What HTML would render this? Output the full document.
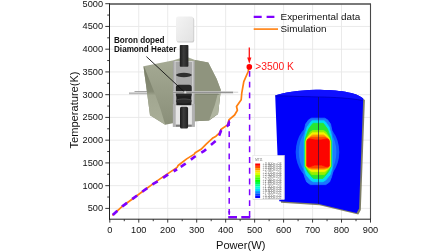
<!DOCTYPE html>
<html lang="en"><head><meta charset="utf-8"><title>Temperature vs Power</title>
<style>html,body{margin:0;padding:0;background:#fff;width:448px;height:252px;overflow:hidden}body{position:relative;font-family:"Liberation Sans",Arial,sans-serif}</style>
</head><body>
<svg width="448" height="252" viewBox="0 0 448 252" style="display:block;position:absolute;left:0;top:0">
<defs>
<linearGradient id="hrod" x1="0" y1="0" x2="0" y2="1"><stop offset="0" stop-color="#d8d8d8"/><stop offset="0.5" stop-color="#8c8c8c"/><stop offset="1" stop-color="#c4c4c4"/></linearGradient>
<linearGradient id="sleeve" x1="0" y1="0" x2="1" y2="0"><stop offset="0" stop-color="#9a9a9a"/><stop offset="0.12" stop-color="#cfcfcf"/><stop offset="0.5" stop-color="#b4b4b4"/><stop offset="0.88" stop-color="#d6d6d6"/><stop offset="1" stop-color="#a0a0a0"/></linearGradient>
<linearGradient id="rod" x1="0" y1="0" x2="1" y2="0"><stop offset="0" stop-color="#1c1c1c"/><stop offset="0.45" stop-color="#3c3c3c"/><stop offset="1" stop-color="#202020"/></linearGradient>
<linearGradient id="cap" x1="0" y1="0" x2="1" y2="1"><stop offset="0" stop-color="#f4f4f4"/><stop offset="1" stop-color="#e2e2e2"/></linearGradient>
<linearGradient id="lfacet" gradientUnits="userSpaceOnUse" x1="0" y1="66" x2="0" y2="125"><stop offset="0" stop-color="#7a7f69"/><stop offset="0.43" stop-color="#868b75"/><stop offset="0.5" stop-color="#a2a791"/><stop offset="1" stop-color="#a9ae98"/></linearGradient>
<linearGradient id="bodyg" gradientUnits="userSpaceOnUse" x1="0" y1="58" x2="0" y2="125"><stop offset="0" stop-color="#a6ab95"/><stop offset="0.45" stop-color="#999e88"/><stop offset="1" stop-color="#8a8f79"/></linearGradient>
<filter id="blur1" x="-20%" y="-20%" width="140%" height="140%"><feGaussianBlur stdDeviation="0.6"/></filter>
<filter id="blur2" x="-20%" y="-20%" width="140%" height="140%"><feGaussianBlur stdDeviation="0.9"/></filter>
<clipPath id="plotclip"><rect x="109.5" y="4.0" width="261.0" height="215.2"/></clipPath>
</defs>
<rect width="448" height="252" fill="#ffffff"/>
<path d="M138.77 4.0V219.2M167.73 4.0V219.2M196.70 4.0V219.2M225.67 4.0V219.2M254.63 4.0V219.2M283.60 4.0V219.2M312.57 4.0V219.2M341.53 4.0V219.2M109.5 208.40H370.5M109.5 185.66H370.5M109.5 162.91H370.5M109.5 140.17H370.5M109.5 117.42H370.5M109.5 94.68H370.5M109.5 71.93H370.5M109.5 49.19H370.5M109.5 26.44H370.5" stroke="#e8e8e8" stroke-width="0.9" fill="none"/>
<g id="device">
<rect x="129" y="92.4" width="20" height="1.9" fill="#b9b9b9"/>
<rect x="134.5" y="91.1" width="14" height="0.9" fill="#9a9a9a"/>
<polygon points="143.5,66.2 172.6,60.6 181,58 188.5,57.5 195,59.9 208.3,62.4 216.7,79 220.8,90 218,114 209,120.4 195,121.2 174,123 165.2,124.8 150,115.2 145.9,84 144.6,75" fill="url(#bodyg)"/>
<polygon points="195,59.9 208.3,62.4 216.7,79 220.8,90 218,114 209,120.4 195,121.2" fill="#8f947e"/>
<polygon points="143.5,66.2 144.4,67.2 154.6,93 160.5,109 165.2,124.8 150,115.2 145.9,84 144.6,75" fill="url(#lfacet)"/>
<polygon points="220.8,90 218,114 209.4,119.8 214.8,105 217.6,94.5" fill="#b0b5a0"/>
<rect x="172.9" y="61" width="21.8" height="65.8" fill="url(#sleeve)"/>
<rect x="175.6" y="62" width="16.4" height="43.5" fill="#a8a8a8"/>
<rect x="172.9" y="104" width="2.9" height="22.8" fill="#b2b2b2"/>
<rect x="191.8" y="104" width="2.9" height="22.8" fill="#b2b2b2"/>
<rect x="175.8" y="105.2" width="16" height="21.6" fill="#e6e6e6"/>
<rect x="175.8" y="124.6" width="16" height="2.2" fill="#7a7a7a"/>
<rect x="179.8" y="45" width="8.6" height="21.8" rx="0.8" fill="url(#rod)"/>
<rect x="176.8" y="17.6" width="17.4" height="25" rx="2.2" fill="#c9c9c9" filter="url(#blur1)"/>
<rect x="176" y="16.6" width="17.4" height="25" rx="2.2" fill="url(#cap)"/>
<ellipse cx="183.9" cy="75" rx="7.9" ry="2.2" fill="#2e2e2e"/>
<rect x="175.9" y="84.8" width="15.8" height="12.2" rx="2.6" fill="#262626"/>
<rect x="176.4" y="96" width="14.8" height="9.2" fill="#1e1e1e"/>
<ellipse cx="183.8" cy="101" rx="7.9" ry="2.4" fill="#2c2c2c"/>
<path d="M176.2 100.2 C179 98.6 188.6 98.6 191.4 100.2" fill="none" stroke="#5c5c5c" stroke-width="0.6"/>
<rect x="195.4" y="94" width="24" height="0.9" fill="#7c816c" opacity="0.8"/>
<rect x="173.2" y="91.2" width="60" height="2.3" fill="url(#hrod)"/>
<rect x="233.2" y="91.6" width="5" height="1.4" fill="#dedede"/>
<circle cx="185.2" cy="92.2" r="1.3" fill="#e8e8e8" stroke="#777" stroke-width="0.4"/>
<rect x="180" y="106.8" width="8.1" height="21.8" rx="1.6" fill="url(#rod)"/>
</g>
<text x="114" y="42.7" font-family="'Liberation Sans',Arial,sans-serif" font-weight="bold" font-size="8.15px" fill="#111">Boron doped</text>
<text x="114" y="52.3" font-family="'Liberation Sans',Arial,sans-serif" font-weight="bold" font-size="8.15px" fill="#111">Diamond Heater</text>
<line x1="146.4" y1="56.6" x2="183.6" y2="91.2" stroke="#111" stroke-width="0.9"/>
<g id="contour">
<path d="M275.2 95.6 C283 92.6 298 90.2 316 89.8 C338 89.8 357 92.5 363.2 98.6 L359.1 208.5 L356.6 212.9 L318 203.8 L279.3 201.3 Z" fill="#5e5e40" opacity="0.8" transform="translate(1.7 1.5)" filter="url(#blur1)"/>
<path d="M275.2 95.6 C283 92.6 298 90.2 316 89.8 C338 89.8 357 92.5 363.2 98.6 L359.1 208.5 L356.6 212.9 L318 203.8 L279.3 201.3 Z" fill="#0000fa"/>
<path d="M275.2 95.6 C283 92.6 298 90.2 316 89.8 C338 89.8 357 92.5 363.2 98.6 L362.4 100.2 C350 98 335 97 318.3 96.8 C300 96.4 285 95.8 275.2 95.6 Z" fill="#1010ff"/>
<path d="M275.2 95.8 C285 96 300 96.6 318.3 97 C335 97.2 350 98.2 362.4 100.4" fill="none" stroke="#0000b4" stroke-width="0.7"/>
<ellipse cx="317.5" cy="152" rx="21.8" ry="29" fill="#0c58ff"/>
<ellipse cx="317.6" cy="152" rx="18.8" ry="27" fill="#1e7cff"/>
<path d="M324.6 118.2 L327.5 119.8 L330.5 124.0 L332.0 131.0 L332.5 140.0 L332.8 171.9 L331.5 176.9 L329.5 182.0 L325.8 184.6 L310.4 184.6 L306.7 182.0 L304.7 176.9 L303.4 171.9 L303.7 140.0 L304.2 131.0 L305.7 124.0 L308.7 119.8 L311.6 118.2Z" fill="#1a76ff" stroke="#1a76ff" stroke-width="0.8" stroke-linejoin="round"/>
<path d="M324.1 120.8 L325.5 122.0 L329.0 127.0 L331.0 133.8 L332.1 140.0 L332.1 168.0 L330.0 174.9 L325.5 180.2 L322.9 181.7 L313.3 181.7 L310.7 180.2 L306.2 174.9 L304.1 168.0 L304.1 140.0 L305.2 133.8 L307.2 127.0 L310.7 122.0 L312.1 120.8Z" fill="#00dcf4" stroke="#00dcf4" stroke-width="0.8" stroke-linejoin="round"/>
<path d="M323.1 123.3 L324.0 124.2 L327.5 129.0 L330.3 136.8 L331.3 141.0 L331.3 166.5 L328.5 171.9 L324.0 177.3 L322.9 178.5 L313.3 178.5 L312.2 177.3 L307.7 171.9 L304.9 166.5 L304.9 141.0 L305.9 136.8 L308.7 129.0 L312.2 124.2 L313.1 123.3Z" fill="#28e632" stroke="#28e632" stroke-width="0.8" stroke-linejoin="round"/>
<path d="M323.7 130.6 L326.1 132.2 L329.5 138.0 L330.6 141.5 L330.6 166.4 L327.1 171.4 L324.5 174.6 L311.7 174.6 L309.1 171.4 L305.6 166.4 L305.6 141.5 L306.7 138.0 L310.1 132.2 L312.5 130.6Z" fill="#96f000" stroke="#96f000" stroke-width="0.8" stroke-linejoin="round"/>
<path d="M323.9 132.8 L327.1 135.6 L329.5 139.0 L330.2 142.0 L330.2 166.2 L326.5 170.2 L324.7 171.6 L311.5 171.6 L309.7 170.2 L306.0 166.2 L306.0 142.0 L306.7 139.0 L309.1 135.6 L312.3 132.8Z" fill="#f8f000" stroke="#f8f000" stroke-width="0.8" stroke-linejoin="round"/>
<path d="M323.5 135.0 L326.7 137.2 L329.3 140.0 L329.8 142.2 L329.8 166.2 L327.5 168.4 L324.5 169.2 L311.7 169.2 L308.7 168.4 L306.4 166.2 L306.4 142.2 L306.9 140.0 L309.5 137.2 L312.7 135.0Z" fill="#ff9800" stroke="#ff9800" stroke-width="0.8" stroke-linejoin="round"/>
<path d="M325.1 137.2 L328.1 139.2 L329.5 141.6 L329.5 166.0 L327.7 167.4 L324.5 168.0 L311.7 168.0 L308.5 167.4 L306.7 166.0 L306.7 141.6 L308.1 139.2 L311.1 137.2Z" fill="#ff4800" stroke="#ff4800" stroke-width="0.8" stroke-linejoin="round"/>
<path d="M321.1 140.0 L326.7 138.9 L328.5 139.4 L329.1 141.0 L329.1 165.6 L328.3 166.6 L326.1 166.6 L321.5 165.0 L314.7 165.0 L310.1 166.6 L307.9 166.6 L307.1 165.6 L307.1 141.0 L307.7 139.4 L309.5 138.9 L315.1 140.0Z" fill="#fc0400" stroke="#fc0400" stroke-width="0.8" stroke-linejoin="round"/>
<line x1="318.5" y1="97" x2="318.5" y2="203.8" stroke="#12124a" stroke-width="0.6"/>
<rect x="252.9" y="155.4" width="31.4" height="44" fill="#ffffff" stroke="#dedede" stroke-width="0.5"/>
<path d="M284.1 155.4V199.3H252.9" fill="none" stroke="#cfcfcf" stroke-width="0.5"/>
<rect x="255.2" y="163.50" width="4.9" height="2.35" fill="#ff0000"/>
<rect x="255.2" y="165.80" width="4.9" height="2.35" fill="#ff4800"/>
<rect x="255.2" y="168.10" width="4.9" height="2.35" fill="#ff9100"/>
<rect x="255.2" y="170.40" width="4.9" height="2.35" fill="#ffda00"/>
<rect x="255.2" y="172.70" width="4.9" height="2.35" fill="#daff00"/>
<rect x="255.2" y="175.00" width="4.9" height="2.35" fill="#91ff00"/>
<rect x="255.2" y="177.30" width="4.9" height="2.35" fill="#48ff00"/>
<rect x="255.2" y="179.60" width="4.9" height="2.35" fill="#00ff00"/>
<rect x="255.2" y="181.90" width="4.9" height="2.35" fill="#00ff48"/>
<rect x="255.2" y="184.20" width="4.9" height="2.35" fill="#00ff91"/>
<rect x="255.2" y="186.50" width="4.9" height="2.35" fill="#00ffda"/>
<rect x="255.2" y="188.80" width="4.9" height="2.35" fill="#00daff"/>
<rect x="255.2" y="191.10" width="4.9" height="2.35" fill="#0091ff"/>
<rect x="255.2" y="193.40" width="4.9" height="2.35" fill="#0048ff"/>
<rect x="255.2" y="195.70" width="4.9" height="2.35" fill="#0000ff"/>
<g font-family="'Liberation Sans',Arial,sans-serif" fill="#6e6e6e">
<text x="255.2" y="160.6" font-size="3px">MT11</text>
<text x="262.6" y="164.50" font-size="3.1px" textLength="19" lengthAdjust="spacingAndGlyphs">+3.600e+03</text>
<text x="262.6" y="166.80" font-size="3.1px" textLength="19" lengthAdjust="spacingAndGlyphs">+3.380e+03</text>
<text x="262.6" y="169.10" font-size="3.1px" textLength="19" lengthAdjust="spacingAndGlyphs">+3.160e+03</text>
<text x="262.6" y="171.40" font-size="3.1px" textLength="19" lengthAdjust="spacingAndGlyphs">+2.940e+03</text>
<text x="262.6" y="173.70" font-size="3.1px" textLength="19" lengthAdjust="spacingAndGlyphs">+2.720e+03</text>
<text x="262.6" y="176.00" font-size="3.1px" textLength="19" lengthAdjust="spacingAndGlyphs">+2.500e+03</text>
<text x="262.6" y="178.30" font-size="3.1px" textLength="19" lengthAdjust="spacingAndGlyphs">+2.280e+03</text>
<text x="262.6" y="180.60" font-size="3.1px" textLength="19" lengthAdjust="spacingAndGlyphs">+2.060e+03</text>
<text x="262.6" y="182.90" font-size="3.1px" textLength="19" lengthAdjust="spacingAndGlyphs">+1.840e+03</text>
<text x="262.6" y="185.20" font-size="3.1px" textLength="19" lengthAdjust="spacingAndGlyphs">+1.620e+03</text>
<text x="262.6" y="187.50" font-size="3.1px" textLength="19" lengthAdjust="spacingAndGlyphs">+1.400e+03</text>
<text x="262.6" y="189.80" font-size="3.1px" textLength="19" lengthAdjust="spacingAndGlyphs">+1.180e+03</text>
<text x="262.6" y="192.10" font-size="3.1px" textLength="19" lengthAdjust="spacingAndGlyphs">+9.600e+02</text>
<text x="262.6" y="194.40" font-size="3.1px" textLength="19" lengthAdjust="spacingAndGlyphs">+7.400e+02</text>
<text x="262.6" y="196.70" font-size="3.1px" textLength="19" lengthAdjust="spacingAndGlyphs">+5.200e+02</text>
<text x="262.6" y="199.00" font-size="3.1px" textLength="19" lengthAdjust="spacingAndGlyphs">+3.000e+02</text>
</g>
</g>
<path d="M112.8 214.9 L122.3 206.3 L132.8 198.7 L143.2 191.0 L153.7 183.4 L160.0 178.9 L168.6 173.1 L177.1 167.4 L178.1 165.5 L186.7 158.9 L194.3 154.1 L195.2 152.8 L201.0 149.3 L206.7 143.6 L212.4 138.3 L216.0 136.2 L219.3 133.1 L221.2 129.3 L227.9 124.6 L228.9 119.8 L234.6 115.0 L237.4 110.3 L236.5 106.5 L241.2 99.8 L241.8 92.8 L243.8 81.7 L248.0 72.0 L249.3 67.0" fill="none" stroke="#ff7f0e" stroke-width="1.7" stroke-linejoin="round" stroke-linecap="round"/>
<g fill="none" stroke="#7f00ff" stroke-linejoin="round">
<path d="M112.8 214.9 L122.3 206.3 L132.8 198.7 L143.2 191.0 L153.7 183.6 L160.0 180.0 L168.6 174.1 L177.1 169.3" stroke-width="2.7" stroke-dasharray="6.2 6.3" stroke-dashoffset="0"/>
<path d="M177.1 169.3 L184.8 164.2 L194.3 157.0 L203.8 151.2 L211.4 144.6 L216.0 140.8 L219.3 135.2 L221.2 130.3 L227.9 125.5 L229.2 121.7" stroke-width="2.6" stroke-dasharray="6 6.5" stroke-dashoffset="8.14"/>
<path d="M229.2 120.2V217.4" stroke-width="1.5" stroke-dasharray="5.8 5.3"/>
<path d="M249.6 216.8V67" stroke-width="1.5" stroke-dasharray="5.9 4.87"/>
<path d="M228.2 217.3H237M241.3 217.3H250.3" stroke-width="2.6"/>
<path d="M228.4 211.5L230 211.5L229.4 214.5Z" fill="#7f00ff" stroke-width="0.6"/>
</g>
<circle cx="249.3" cy="66.9" r="2.8" fill="#ff0000"/>
<line x1="249.3" y1="47.6" x2="249.3" y2="60" stroke="#ff1010" stroke-width="1.3"/>
<polygon points="247.2,57.6 251.4,57.6 249.3,63.8" fill="#ff1010"/>
<text x="255.3" y="70.2" font-family="'Liberation Sans',Arial,sans-serif" font-size="10.3px" fill="#ff1a1a">&gt;3500 K</text>
<path d="M253.7 16.9H261.7M266.6 16.9H274.4" stroke="#7f00ff" stroke-width="2.3" fill="none"/>
<line x1="253.7" y1="29.1" x2="278" y2="29.1" stroke="#ff7f0e" stroke-width="1.6"/>
<g font-family="'Liberation Sans',Arial,sans-serif" font-size="9.9px" fill="#111">
<text x="280.6" y="19.8">Experimental data</text>
<text x="280.4" y="32.3">Simulation</text>
</g>
<path d="M109.0 4.0H371.0" stroke="#4c4c4c" stroke-width="1.4" fill="none"/>
<path d="M370.5 4.0V219.2" stroke="#484848" stroke-width="1.1" fill="none"/>
<path d="M109.5 3.5V219.7" stroke="#222" stroke-width="1" fill="none"/>
<path d="M109.0 219.2H371.0" stroke="#222" stroke-width="1" fill="none"/>
<path d="M109.80 219.2v3.4M138.77 219.2v3.4M167.73 219.2v3.4M196.70 219.2v3.4M225.67 219.2v3.4M254.63 219.2v3.4M283.60 219.2v3.4M312.57 219.2v3.4M341.53 219.2v3.4M370.50 219.2v3.4M124.28 219.2v2M153.25 219.2v2M182.22 219.2v2M211.18 219.2v2M240.15 219.2v2M269.12 219.2v2M298.08 219.2v2M327.05 219.2v2M356.02 219.2v2M109.5 208.40h-4.2M109.5 185.66h-4.2M109.5 162.91h-4.2M109.5 140.17h-4.2M109.5 117.42h-4.2M109.5 94.68h-4.2M109.5 71.93h-4.2M109.5 49.19h-4.2M109.5 26.44h-4.2M109.5 3.70h-4.2M109.5 197.03h-2.3M109.5 174.28h-2.3M109.5 151.54h-2.3M109.5 128.79h-2.3M109.5 106.05h-2.3M109.5 83.31h-2.3M109.5 60.56h-2.3M109.5 37.82h-2.3M109.5 15.07h-2.3" stroke="#222" stroke-width="0.9" fill="none"/>
<g font-family="'Liberation Sans',Arial,sans-serif" font-size="9.2px" fill="#111">
<text x="109.80" y="233" text-anchor="middle">0</text>
<text x="138.77" y="233" text-anchor="middle">100</text>
<text x="167.73" y="233" text-anchor="middle">200</text>
<text x="196.70" y="233" text-anchor="middle">300</text>
<text x="225.67" y="233" text-anchor="middle">400</text>
<text x="254.63" y="233" text-anchor="middle">500</text>
<text x="283.60" y="233" text-anchor="middle">600</text>
<text x="312.57" y="233" text-anchor="middle">700</text>
<text x="341.53" y="233" text-anchor="middle">800</text>
<text x="370.50" y="233" text-anchor="middle">900</text>
<text x="103" y="211.40" text-anchor="end">500</text>
<text x="103" y="188.66" text-anchor="end">1000</text>
<text x="103" y="165.91" text-anchor="end">1500</text>
<text x="103" y="143.17" text-anchor="end">2000</text>
<text x="103" y="120.42" text-anchor="end">2500</text>
<text x="103" y="97.68" text-anchor="end">3000</text>
<text x="103" y="74.93" text-anchor="end">3500</text>
<text x="103" y="52.19" text-anchor="end">4000</text>
<text x="103" y="29.44" text-anchor="end">4500</text>
<text x="103" y="6.70" text-anchor="end">5000</text>
</g>
<g font-family="'Liberation Sans',Arial,sans-serif" font-size="11.1px" fill="#111">
<text x="240.7" y="248.8" text-anchor="middle">Power(W)</text>
<text transform="translate(77.7 110) rotate(-90)" text-anchor="middle">Temperature(K)</text>
</g>
</svg>
</body></html>
